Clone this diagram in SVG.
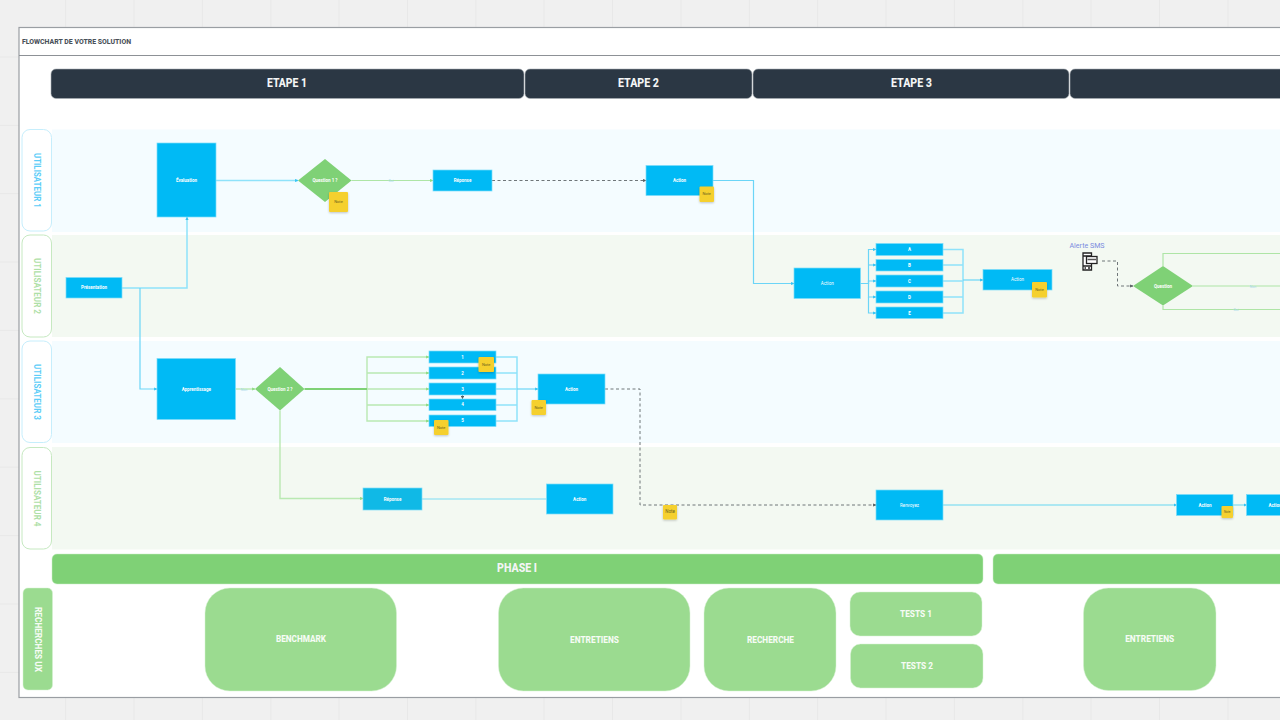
<svg xmlns="http://www.w3.org/2000/svg" width="1280" height="720" viewBox="0 0 1280 720">
<style>
text{font-family:Roboto,"Liberation Sans",sans-serif;text-anchor:middle}
.grid{stroke:#e8e8e8;stroke-width:1;fill:none}
.hd{fill:#2b3744;stroke:#aab0b5;stroke-width:.6}
.hdt{fill:#f4f5f6;font-weight:800;font-size:12.5px}
.lane1{fill:#f4fcff}.lane2{fill:#f3f9f2}
.lb1{fill:#fff;stroke:#c6eefc;stroke-width:1}.lb2{fill:#fff;stroke:#c6e9c1;stroke-width:1}
.lt1{fill:#5ccdf8;font-size:9.5px;font-weight:700}.lt2{fill:#aee0a6;font-size:9.5px;font-weight:700}
.ph{fill:#7fd176;stroke:#c9ecc4;stroke-width:.5}
.rs{fill:#9bdb90;stroke:#d5f0d0;stroke-width:.5}
.rst{fill:#f6fcf5;font-weight:800;font-size:9px}
.n{fill:#00baf5;stroke:#7bdcfa;stroke-width:.7}
.d{fill:#7fd176}
.nt{fill:#fff;font-size:4.5px;font-weight:700}
.note{fill:#f5d02e;filter:url(#sh)}
.nn{fill:#6b6420;font-size:4px}
.b{fill:none;stroke:#6bd5f7;stroke-width:1.2}
.bl{fill:none;stroke:#8fe2fa;stroke-width:1.5}
.g{fill:none;stroke:#aee5a6;stroke-width:1.2}
.gl{fill:none;stroke:#b9e9b2;stroke-width:1.4}
.gs{fill:none;stroke:#7fd176;stroke-width:2}
.k{fill:none;stroke:#6f7679;stroke-width:1;stroke-dasharray:3 2.5}
.tl{fill:#a5d8ea;font-size:3.5px}
</style>
<defs>
<filter id="sh" x="-30%" y="-30%" width="160%" height="170%"><feDropShadow dx="0" dy="1" stdDeviation=".8" flood-color="#000" flood-opacity=".22"/></filter>
<marker id="ab" viewBox="0 0 6 6" refX="5.5" refY="3" markerWidth="3.2" markerHeight="3.2" orient="auto" markerUnits="userSpaceOnUse"><path d="M0 0L6 3L0 6z" fill="#35c4f5"/></marker>
<marker id="ag" viewBox="0 0 6 6" refX="5.5" refY="3" markerWidth="3.2" markerHeight="3.2" orient="auto" markerUnits="userSpaceOnUse"><path d="M0 0L6 3L0 6z" fill="#8fdb85"/></marker>
<marker id="ak" viewBox="0 0 6 6" refX="5.5" refY="3" markerWidth="3.2" markerHeight="3.2" orient="auto" markerUnits="userSpaceOnUse"><path d="M0 0L6 3L0 6z" fill="#555c60"/></marker>
</defs>
<rect width="1280" height="720" fill="#f0f0f0"/>
<path class="grid" d="M65.7 0V720M134 0V720M202.4 0V720M270.8 0V720M339 0V720M407.5 0V720M475.8 0V720M544 0V720M612.5 0V720M681 0V720M749.3 0V720M817.6 0V720M886 0V720M954.4 0V720M1022.8 0V720M1091 0V720M1159.5 0V720M1228 0V720M0 57H1280M0 125.3H1280M0 193.7H1280M0 262H1280M0 330.4H1280M0 398.8H1280M0 467.2H1280M0 535.6H1280M0 604H1280M0 672.4H1280"/>
<rect x="19" y="27.5" width="1270" height="670" fill="#fff" stroke="#9a9ea3" stroke-width="1.2"/>
<path d="M19 55.5H1280" stroke="#8d9196" stroke-width="1" fill="none"/>
<text x="76.5" y="44" style="fill:#4a5159;font-weight:800;font-size:8px" textLength="109" lengthAdjust="spacingAndGlyphs">FLOWCHART DE VOTRE SOLUTION</text>

<g id="headers">
<rect class="hd" x="51" y="69" width="473" height="29.5" rx="5"/>
<text class="hdt" x="287" y="87" textLength="40" lengthAdjust="spacingAndGlyphs">ETAPE 1</text>
<rect class="hd" x="525" y="69" width="227" height="29.5" rx="5"/>
<text class="hdt" x="638.5" y="87" textLength="41" lengthAdjust="spacingAndGlyphs">ETAPE 2</text>
<rect class="hd" x="753" y="69" width="316" height="29.5" rx="5"/>
<text class="hdt" x="911.5" y="87" textLength="41" lengthAdjust="spacingAndGlyphs">ETAPE 3</text>
<rect class="hd" x="1070" y="69" width="240" height="29.5" rx="5"/>
</g>

<g id="lanes">
<rect class="lane1" x="52" y="129.5" width="1228" height="102.5"/>
<rect class="lane2" x="52" y="235" width="1228" height="102"/>
<rect class="lane1" x="52" y="341" width="1228" height="102"/>
<rect class="lane2" x="52" y="447" width="1228" height="102.5"/>
<g id="label-u1"><rect class="lb1" x="22" y="129.5" width="29.5" height="101.5" rx="8"/><text class="lt1" transform="translate(37 180.4) rotate(90)" y="3.3" textLength="55" lengthAdjust="spacingAndGlyphs">UTILISATEUR 1</text></g>
<g id="label-u2"><rect class="lb2" x="22" y="235" width="29.5" height="102" rx="8"/><text class="lt2" transform="translate(37 286) rotate(90)" y="3.3" textLength="56" lengthAdjust="spacingAndGlyphs">UTILISATEUR 2</text></g>
<g id="label-u3"><rect class="lb1" x="22" y="341" width="29.5" height="101.5" rx="8"/><text class="lt1" transform="translate(37 392) rotate(90)" y="3.3" textLength="56" lengthAdjust="spacingAndGlyphs">UTILISATEUR 3</text></g>
<g id="label-u4"><rect class="lb2" x="22" y="447.5" width="29.5" height="101.5" rx="8"/><text class="lt2" transform="translate(37 498.5) rotate(90)" y="3.3" textLength="56" lengthAdjust="spacingAndGlyphs">UTILISATEUR 4</text></g>
</g>

<g id="connectors">
<path class="bl" d="M122 288H187V217" marker-end="url(#ab)"/>
<path class="b" d="M140 288V389H157" marker-end="url(#ab)"/>
<path class="bl" d="M216 180.5H298" marker-end="url(#ab)"/>
<path class="g" d="M351.5 180.5H433" marker-end="url(#ag)"/>
<text class="tl" x="391" y="182">Oui</text>
<path class="k" d="M492 180.5H646" marker-end="url(#ak)"/>
<path class="b" d="M713 180.5H753.5V283.5H794" marker-end="url(#ab)"/>
<path class="b" d="M860.5 283.5H868.5V249.5H876" marker-end="url(#ab)"/>
<path class="b" d="M868.5 265H876" marker-end="url(#ab)"/>
<path class="b" d="M860.5 283.5H868.5V281H876" marker-end="url(#ab)"/>
<path class="b" d="M868.5 283V297H876" marker-end="url(#ab)"/>
<path class="b" d="M868.5 297V313H876" marker-end="url(#ab)"/>
<path class="bl" d="M943 249.5H963V313H943M943 265H963M943 281H963M943 297H963"/>
<path class="b" d="M963 280H983" marker-end="url(#ab)"/>
<path class="k" d="M1102 261H1117.5V286H1133" marker-end="url(#ak)"/>
<path class="g" d="M1163 266V253.5H1280"/>
<path class="g" d="M1193 286H1280"/>
<text class="tl" x="1253" y="287.5">Non</text>
<path class="g" d="M1163 305.5V309.5H1280"/>
<text class="tl" x="1236" y="311">Oui</text>
<path class="gl" d="M235.5 389H255" marker-end="url(#ag)"/>
<text class="tl" x="244" y="390.5">Non</text>
<path class="gl" d="M367 389V357H429" marker-end="url(#ag)"/>
<path class="gl" d="M367 373H429" marker-end="url(#ag)"/>
<path class="gl" d="M367 389H429" marker-end="url(#ag)"/>
<path class="gl" d="M367 389V421H429" marker-end="url(#ag)"/>
<path class="gl" d="M367 405H429" marker-end="url(#ag)"/>
<path class="gs" d="M304.5 389H367"/>
<path class="bl" d="M496 357H517V421H496M496 373H517M496 389H517M496 405H517"/>
<path class="b" d="M517 389H538" marker-end="url(#ab)"/>
<path d="M462.5 395V399" stroke="#4d6b78" stroke-width=".7" marker-end="url(#ak)" fill="none"/>
<path class="k" d="M605 389H640V505H876" marker-end="url(#ak)"/>
<path class="gl" d="M280 410.5V498.5H363" marker-end="url(#ag)"/>
<path class="bl" d="M422 499H546.5" style="stroke:#a5e6f3"/>
<path class="bl" d="M943 505H1176.5" style="stroke:#94e2f2" marker-end="url(#ab)"/>
<path class="bl" d="M1233 505H1246.5" style="stroke:#94e2f2" marker-end="url(#ab)"/>
</g>

<g id="n-evaluation"><rect class="n" x="157" y="143" width="59" height="74"/><text class="nt" x="186.500" y="181.500">Évaluation</text></g>
<g id="n-q1"><polygon class="d" points="298,180.500 325,159 351.500,180.500 325,202"/><text class="nt" x="325" y="182">Question 1 ?</text></g>
<g id="n-note1"><rect class="note" x="329" y="192" width="19" height="20" rx="1"/><text class="nn" x="338.500" y="203">Note</text></g>
<g id="n-reponse1"><rect class="n" x="433" y="170" width="59" height="21"/><text class="nt" x="462.500" y="182">Réponse</text></g>
<g id="n-action1"><rect class="n" x="646" y="165.500" width="67" height="30"/><text class="nt" x="679.500" y="182">Action</text></g>
<g id="n-note2"><rect class="note" x="699.500" y="186.500" width="14.500" height="15.500" rx="1"/><text class="nn" x="706.700" y="195">Note</text></g>
<g id="n-presentation"><rect class="n" x="66" y="277.500" width="56" height="20.500"/><text class="nt" x="94" y="289.300">Présentation</text></g>
<g id="n-action2"><rect class="n" x="794" y="268" width="66.500" height="30.500"/><text class="nt" x="827.300" y="285" style="font-weight:400">Action</text></g>
<g id="n-a"><rect class="n" x="876" y="243.500" width="67" height="12"/><text class="nt" x="909.500" y="251">A</text></g>
<g id="n-b"><rect class="n" x="876" y="259.500" width="67" height="11.500"/><text class="nt" x="909.500" y="266.800">B</text></g>
<g id="n-c"><rect class="n" x="876" y="275" width="67" height="12"/><text class="nt" x="909.500" y="282.700">C</text></g>
<g id="n-d"><rect class="n" x="876" y="291" width="67" height="12"/><text class="nt" x="909.500" y="298.500">D</text></g>
<g id="n-e"><rect class="n" x="876" y="307" width="67" height="11.500"/><text class="nt" x="909.500" y="314.500">E</text></g>
<g id="n-action3"><rect class="n" x="983" y="269.500" width="69" height="20.500"/><text class="nt" x="1017.500" y="281.200" style="font-weight:400">Action</text></g>
<g id="n-note3"><rect class="note" x="1032" y="282" width="15" height="15.500" rx="1"/><text class="nn" x="1039.500" y="291">Note</text></g>
<g id="n-alerte">
<text x="1087" y="248" style="fill:#7b8be0;font-size:8px" textLength="35" lengthAdjust="spacingAndGlyphs">Alerte SMS</text>
<path d="M1083 253H1091.500V270H1083Z M1083 256H1091.500 M1083 266H1091.500" fill="#fff" stroke="#222" stroke-width="1.300"/>
<rect x="1086.500" y="256.500" width="10.500" height="7" fill="#fff" stroke="#222" stroke-width="1.300"/>
<path d="M1087.500 259.500H1096" stroke="#555" stroke-width="1.500"/>
<path d="M1084.500 268H1086M1088 268H1090" stroke="#222" stroke-width="1.500"/>
</g>
<g id="n-q3"><polygon class="d" points="1133,286 1163,266 1193,286 1163,305.500"/><text class="nt" x="1163" y="287.500">Question</text></g>
<g id="n-apprentissage"><rect class="n" x="157" y="358.500" width="78.500" height="61"/><text class="nt" x="196.300" y="390.500">Apprentissage</text></g>
<g id="n-q2"><polygon class="d" points="255,389 280,367 304.500,389 280,410.500"/><text class="nt" x="280" y="390.500">Question 2 ?</text></g>
<g id="n-1"><rect class="n" x="429" y="351" width="67" height="12"/><text class="nt" x="462.500" y="358.500">1</text></g>
<g id="n-2"><rect class="n" x="429" y="367" width="67" height="12"/><text class="nt" x="462.500" y="374.500">2</text></g>
<g id="n-3"><rect class="n" x="429" y="383" width="67" height="12"/><text class="nt" x="462.500" y="390.500">3</text></g>
<g id="n-4"><rect class="n" x="429" y="399" width="67" height="11.500"/><text class="nt" x="462.500" y="406.300">4</text></g>
<g id="n-5"><rect class="n" x="429" y="415" width="67" height="11.500"/><text class="nt" x="462.500" y="422.300">5</text></g>
<g id="n-note4"><rect class="note" x="478.500" y="357" width="15.500" height="15" rx="1"/><text class="nn" x="486.200" y="365.500">Note</text></g>
<g id="n-note5"><rect class="note" x="434" y="420" width="14.500" height="15" rx="1"/><text class="nn" x="441.200" y="428.500">Note</text></g>
<g id="n-action4"><rect class="n" x="538" y="374" width="67" height="30"/><text class="nt" x="571.500" y="390.500">Action</text></g>
<g id="n-note6"><rect class="note" x="531.500" y="400" width="14.500" height="15" rx="1"/><text class="nn" x="538.700" y="408.500">Note</text></g>
<g id="n-reponse2"><rect x="363" y="488" width="59" height="22" fill="#10b9e6" stroke="#7bdcfa" stroke-width=".7"/><text class="nt" x="392.500" y="500.500">Réponse</text></g>
<g id="n-action5"><rect class="n" x="546.500" y="484" width="66.500" height="30"/><text class="nt" x="579.700" y="500.500">Action</text></g>
<g id="n-note7"><rect class="note" x="663" y="505" width="14" height="14.500" rx="1"/><text class="nn" x="670" y="512.500" style="font-size:4.5px">Note</text></g>
<g id="n-renvoyez"><rect class="n" x="876" y="490" width="67" height="30"/><text class="nt" x="909.500" y="506.500" style="font-weight:400">Renvoyez</text></g>
<g id="n-action6"><rect class="n" x="1176.500" y="494.500" width="56.500" height="21"/><text class="nt" x="1205" y="506.500">Action</text></g>
<g id="n-note8"><rect class="note" x="1221.500" y="506" width="11.500" height="12" rx="1"/><text class="nn" x="1227.200" y="513" style="font-size:3px">Note</text></g>
<g id="n-action7"><rect class="n" x="1246.500" y="494.500" width="56.500" height="21"/><text class="nt" x="1275" y="506.500">Action</text></g>

<g id="phases">
<rect class="ph" x="52" y="554" width="931" height="30" rx="5"/>
<text class="hdt" x="517" y="571.5" style="font-size:12px" textLength="40" lengthAdjust="spacingAndGlyphs">PHASE I</text>
<rect class="ph" x="993" y="554" width="320" height="30" rx="5"/>
</g>
<g id="research">
<g id="r-label"><rect class="rs" x="23" y="588" width="29.500" height="102" rx="5"/><text class="rst" transform="translate(38.500 639.500) rotate(90)" y="3.200" textLength="65" lengthAdjust="spacingAndGlyphs">RECHERCHES UX</text></g>
<g id="r-benchmark"><rect class="rs" x="205" y="588" width="191.500" height="103" rx="25"/><text class="rst" x="301" y="642" textLength="50" lengthAdjust="spacingAndGlyphs">BENCHMARK</text></g>
<g id="r-entretiens1"><rect class="rs" x="498.500" y="588" width="191.500" height="103" rx="25"/><text class="rst" x="594.500" y="642.500" textLength="49" lengthAdjust="spacingAndGlyphs">ENTRETIENS</text></g>
<g id="r-recherche"><rect class="rs" x="704" y="588" width="132" height="103" rx="25"/><text class="rst" x="770.500" y="642.500" textLength="47" lengthAdjust="spacingAndGlyphs">RECHERCHE</text></g>
<g id="r-tests1"><rect class="rs" x="850" y="592" width="132" height="44" rx="10"/><text class="rst" x="916" y="616.500" textLength="32" lengthAdjust="spacingAndGlyphs">TESTS 1</text></g>
<g id="r-tests2"><rect class="rs" x="850.500" y="644" width="132.500" height="44" rx="10"/><text class="rst" x="917" y="668.500" textLength="32" lengthAdjust="spacingAndGlyphs">TESTS 2</text></g>
<g id="r-entretiens2"><rect class="rs" x="1083.500" y="588" width="132.500" height="102.500" rx="25"/><text class="rst" x="1149.700" y="641.500" textLength="49" lengthAdjust="spacingAndGlyphs">ENTRETIENS</text></g>
</g>
</svg>
